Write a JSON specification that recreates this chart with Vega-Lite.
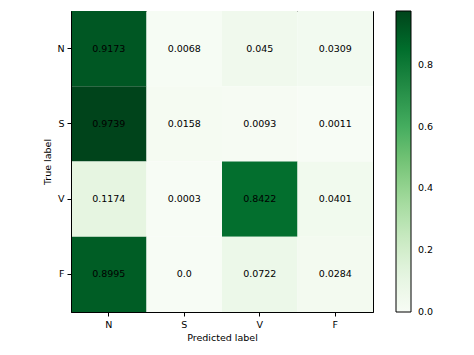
{
  "$schema": "https://vega.github.io/schema/vega-lite/v6.json",
  "autosize": "none",
  "padding": {"left": 71, "top": 11, "right": 101, "bottom": 43},
  "width": 302,
  "height": 301,
  "config": {
    "font": "DejaVu Sans",
    "view": {"stroke": "black", "strokeWidth": 1},
    "axis": {
      "labelFont": "DejaVu Sans", "titleFont": "DejaVu Sans",
      "labelFontSize": 9.5, "titleFontSize": 9.5,
      "labelColor": "black", "titleColor": "black",
      "titleFontWeight": "normal",
      "domainColor": "black", "tickColor": "black",
      "tickSize": 4, "labelPadding": 3, "grid": false
    }
  },
  "data": {
    "values": [
      {"true": "N", "pred": "N", "value": 0.9173, "label": "0.9173"},
      {"true": "N", "pred": "S", "value": 0.0068, "label": "0.0068"},
      {"true": "N", "pred": "V", "value": 0.045, "label": "0.045"},
      {"true": "N", "pred": "F", "value": 0.0309, "label": "0.0309"},
      {"true": "S", "pred": "N", "value": 0.9739, "label": "0.9739"},
      {"true": "S", "pred": "S", "value": 0.0158, "label": "0.0158"},
      {"true": "S", "pred": "V", "value": 0.0093, "label": "0.0093"},
      {"true": "S", "pred": "F", "value": 0.0011, "label": "0.0011"},
      {"true": "V", "pred": "N", "value": 0.1174, "label": "0.1174"},
      {"true": "V", "pred": "S", "value": 0.0003, "label": "0.0003"},
      {"true": "V", "pred": "V", "value": 0.8422, "label": "0.8422"},
      {"true": "V", "pred": "F", "value": 0.0401, "label": "0.0401"},
      {"true": "F", "pred": "N", "value": 0.8995, "label": "0.8995"},
      {"true": "F", "pred": "S", "value": 0.0, "label": "0.0"},
      {"true": "F", "pred": "V", "value": 0.0722, "label": "0.0722"},
      {"true": "F", "pred": "F", "value": 0.0284, "label": "0.0284"}
    ]
  },
  "encoding": {
    "x": {
      "field": "pred", "type": "nominal", "sort": ["N", "S", "V", "F"],
      "title": "Predicted label",
      "scale": {"paddingInner": 0, "paddingOuter": 0},
      "axis": {"labelAngle": 0, "titlePadding": 4}
    },
    "y": {
      "field": "true", "type": "nominal", "sort": ["N", "S", "V", "F"],
      "title": "True label",
      "scale": {"paddingInner": 0, "paddingOuter": 0},
      "axis": {"titlePadding": 4}
    }
  },
  "layer": [
    {
      "mark": {"type": "rect"},
      "encoding": {
        "color": {
          "field": "value", "type": "quantitative",
          "scale": {
            "domain": [0, 0.121738, 0.243475, 0.365213, 0.48695, 0.608688, 0.730425, 0.852163, 0.9739],
            "range": ["#f7fcf5", "#e5f5e0", "#c7e9c0", "#a1d99b", "#74c476", "#41ab5d", "#238b45", "#006d2c", "#00441b"],
            "interpolate": "rgb"
          },
          "legend": {
            "title": null,
            "type": "gradient",
            "direction": "vertical",
            "gradientLength": 301,
            "gradientThickness": 15,
            "gradientStrokeColor": "black",
            "gradientStrokeWidth": 1,
            "values": [0, 0.2, 0.4, 0.6, 0.8],
            "format": ".1f",
            "labelFont": "DejaVu Sans",
            "labelFontSize": 9.5,
            "labelColor": "black",
            "labelOffset": 7,
            "offset": 23,
            "padding": 0,
            "encode": {
              "labels": {"update": {"baseline": {"value": "middle"}}}
            }
          }
        }
      }
    },
    {
      "mark": {"type": "text", "font": "DejaVu Sans", "fontSize": 9.5, "color": "black"},
      "encoding": {"text": {"field": "label", "type": "nominal"}}
    }
  ]
}
